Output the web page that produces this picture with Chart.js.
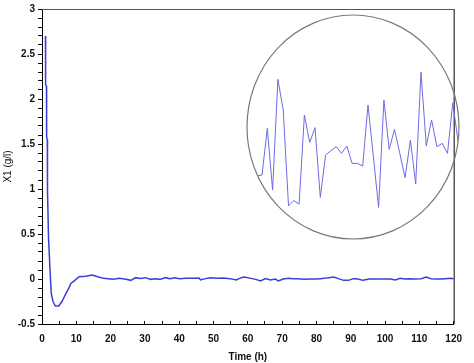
<!DOCTYPE html>
<html>
<head>
<meta charset="utf-8">
<script src="https://cdn.jsdelivr.net/npm/chart.js@4.4.1/dist/chart.umd.min.js"></script>
<style>
  html, body { margin: 0; padding: 0; background: #fff; }
  #wrap { position: relative; width: 474px; height: 363px; }
  #main { position: absolute; left: 0; top: 0; }
  #inset { position: absolute; left: 246px; top: 14px; }
</style>
</head>
<body>
<div id="wrap">
  <canvas id="main" width="474" height="363"></canvas>
  <canvas id="inset" width="214" height="226"></canvas>
</div>
<script>
// main series: time (h) and X1 (g/l)
const timeH = [
  1.0, 1.05, 1.3, 1.35, 1.55, 1.6, 1.9, 2.3, 2.7, 3.2, 3.9, 4.9, 5.8, 7.0, 7.9,
  8.4, 9.4, 10.8, 12.7, 14.6, 16.5, 17.9, 19.3, 20.7, 22.6, 24.5, 25.9, 27.3,
  28.7, 30.2, 31.6, 33.0, 34.4, 36.0, 37.3, 38.7, 40.1, 42.0, 44.4, 45.8, 46.2,
  47.7, 49.1, 51.0, 52.9, 54.8, 56.6, 58.1, 59.0, 60.9, 62.3, 63.7, 65.1, 66.6,
  68.0, 68.9, 70.3, 71.8, 73.2, 74.6, 76.5, 77.9, 79.8, 81.2, 82.2, 83.6, 85.0,
  86.4, 87.9, 89.3, 90.7, 92.1, 93.5, 95.4, 101.6, 103.0, 104.4, 105.8, 107.2,
  108.7, 110.5, 112.0, 113.4, 114.8, 116.2, 117.6, 119.1, 120.0
];
const x1Values = [
  2.70, 2.16, 2.14, 1.57, 1.55, 0.99, 0.46, 0.13, -0.16, -0.25, -0.30, -0.30,
  -0.25, -0.16, -0.096, -0.05, -0.02, 0.025, 0.03, 0.044, 0.022, 0.007, 0.004,
  -0.004, 0.007, -0.004, -0.015, 0.015, 0.007, 0.015, -0.004, 0.004, -0.004,
  0.015, 0.004, 0.015, 0.004, 0.007, 0.007, 0.011, -0.011, 0.004, 0.015, 0.007,
  0.011, 0.004, -0.011, 0.015, 0.022, 0.007, -0.004, -0.022, 0.004, -0.011,
  0.0, -0.022, 0.0, 0.007, 0.004, 0.004, -0.004, 0.0, 0.0, 0.004, 0.007, 0.015,
  0.022, 0.004, -0.015, -0.015, 0.004, 0.0, -0.015, 0.0, 0.0, -0.011, 0.007,
  0.0, 0.004, 0.0, 0.004, 0.022, 0.004, 0.0, 0.0, 0.004, 0.007, 0.004
];

// zoomed fluctuation shown in the circle (sample index, relative level)
const insetIndex = [
  -1, 0, 1, 2, 3, 4, 5, 6, 7, 8, 9, 10, 11, 12, 13, 14, 15, 16, 17, 18, 19, 20,
  21, 22, 23, 24, 25, 26, 27, 28, 29, 30, 31, 32, 33, 34, 35, 36, 37, 38, 39
];
const insetValues = [
  2.2, 1.92, 1.95, 3.35, 1.50, 4.82, 3.90, 1.03, 1.18, 1.08, 3.75, 2.93, 3.37,
  1.28, 2.55, 2.68, 2.80, 2.60, 2.82, 2.30, 2.30, 2.22, 4.05, 2.52, 0.98, 4.20,
  2.72, 3.32, 2.60, 1.87, 3.00, 1.68, 5.03, 2.82, 3.60, 2.80, 2.90, 2.60, 4.12,
  2.95, 3.40
];

const yTicks = ["-0.5", "0", "0.5", "1", "1.5", "2", "2.5", "3"];

const tickFont = { family: "Liberation Sans, Arial, sans-serif", size: 10, weight: "bold" };

// top and right frame lines
const framePlugin = {
  id: "frame",
  afterDraw(chart) {
    const { ctx, chartArea: a } = chart;
    ctx.save();
    ctx.lineWidth = 1;
    ctx.strokeStyle = "#555";
    ctx.beginPath();
    ctx.moveTo(a.left, a.top + 0.5);
    ctx.lineTo(a.right, a.top + 0.5);
    ctx.stroke();
    ctx.strokeStyle = "#000";
    ctx.beginPath();
    ctx.moveTo(a.right + 0.5, a.top);
    ctx.lineTo(a.right + 0.5, a.bottom);
    ctx.stroke();
    ctx.restore();
  },
};

new Chart(document.getElementById("main"), {
  type: "line",
  data: {
    datasets: [
      {
        data: timeH.map((t, i) => ({ x: t, y: x1Values[i] })),
        borderColor: "#3d3ddb",
        borderWidth: 1.5,
        pointRadius: 0,
        tension: 0,
      },
    ],
  },
  options: {
    responsive: false,
    animation: false,
    events: [],
    layout: { padding: { top: 5, right: 9, left: 0, bottom: 0 } },
    plugins: { legend: { display: false }, tooltip: { enabled: false } },
    scales: {
      x: {
        type: "linear",
        min: 0,
        max: 120,
        afterFit: (s) => { s.height = 39; },
        border: { color: "#000", width: 1 },
        grid: { drawOnChartArea: false, tickLength: -3, color: "#000" },
        ticks: {
          stepSize: 5,
          autoSkip: false,
          maxRotation: 0,
          padding: 12,
          color: "#111",
          font: tickFont,
          callback: (v) => (v % 10 === 0 ? String(v) : ""),
        },
        title: {
          display: true,
          text: "Time (h)",
          color: "#111",
          font: tickFont,
          padding: 0,
        },
      },
      y: {
        min: -0.5,
        max: 3,
        afterFit: (s) => { s.width = 42; },
        border: { color: "#000", width: 1 },
        grid: { drawOnChartArea: false, tickLength: 4, color: "#000" },
        ticks: {
          stepSize: 0.1,
          autoSkip: false,
          padding: 3,
          color: "#111",
          font: tickFont,
          callback: (v) => {
            const k = Math.round(v * 2);
            if (Math.abs(v * 2 - k) > 1e-6) return "";
            return yTicks[k + 1];
          },
        },
        title: {
          display: true,
          text: "X1 (g/l)",
          color: "#111",
          font: { family: "Liberation Sans, Arial, sans-serif", size: 10 },
          padding: { top: 2, bottom: 0 },
        },
      },
    },
  },
  plugins: [framePlugin],
});

// circle clip + outline for the inset
const circlePlugin = {
  id: "circle",
  beforeDatasetsDraw(chart) {
    const { ctx, width, height } = chart;
    ctx.save();
    ctx.beginPath();
    ctx.ellipse(width / 2, height / 2, width / 2 - 1, height / 2 - 1, 0, 0, Math.PI * 2);
    ctx.clip();
  },
  afterDatasetsDraw(chart) {
    const { ctx, width, height } = chart;
    ctx.restore();
    ctx.save();
    ctx.strokeStyle = "#7a7a7a";
    ctx.lineWidth = 1.2;
    ctx.beginPath();
    ctx.ellipse(width / 2, height / 2, width / 2 - 1, height / 2 - 1, 0, 0, Math.PI * 2);
    ctx.stroke();
    ctx.restore();
  },
};

new Chart(document.getElementById("inset"), {
  type: "line",
  data: {
    datasets: [
      {
        data: insetIndex.map((k, i) => ({ x: k, y: insetValues[i] })),
        borderColor: "#6b6be6",
        borderWidth: 1,
        pointRadius: 0,
        tension: 0,
      },
    ],
  },
  options: {
    responsive: false,
    animation: false,
    events: [],
    layout: { padding: 0 },
    plugins: { legend: { display: false }, tooltip: { enabled: false } },
    scales: {
      x: { type: "linear", display: false, min: -2.02, max: 38.36 },
      y: { display: false, min: 0, max: 6.78 },
    },
  },
  plugins: [circlePlugin],
});
</script>
</body>
</html>
